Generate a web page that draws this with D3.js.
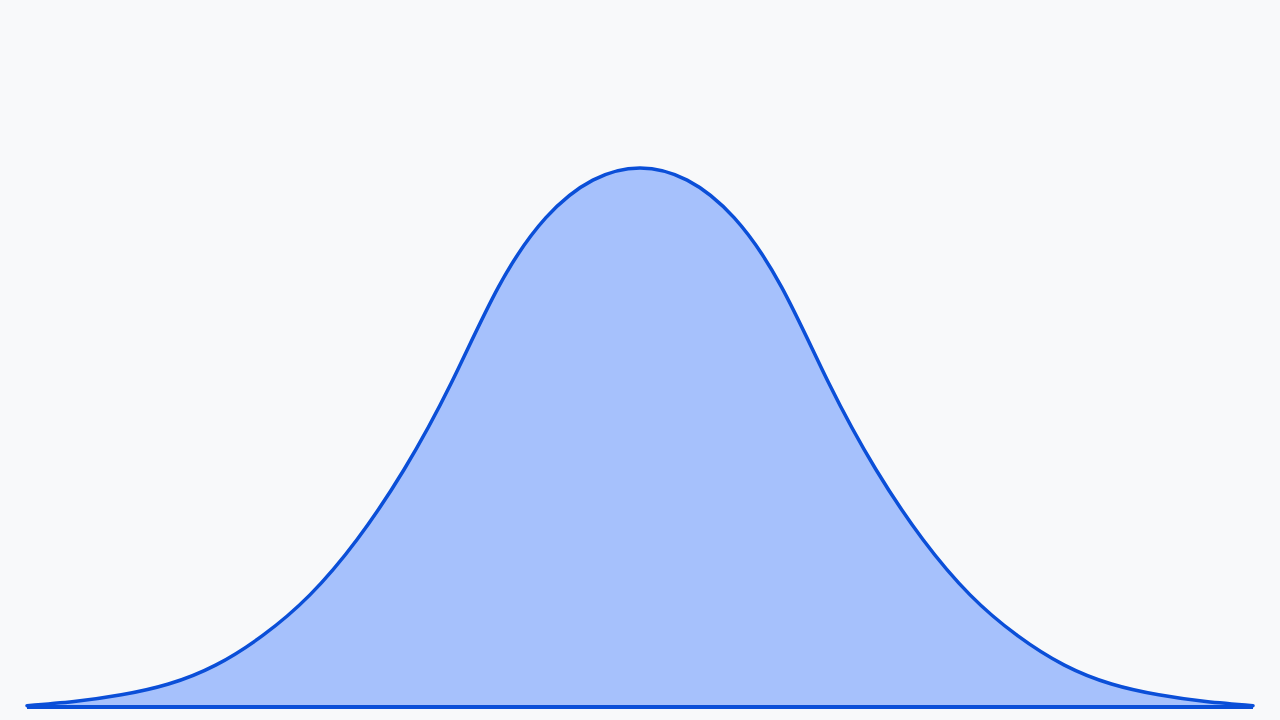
<html>
<head>
<title>Bell curve</title>
<style>
html, body {
	margin: 0;
	padding: 0;
	background: #f8f9fa;
}
svg {
	display: block;
}
</style>
<script src="https://d3js.org/d3.v7.min.js"></script>
</head>
<body>
<svg id="chart" width="1280" height="720"></svg>
<script>

// values: position in standard units, curve height
var xs = [-3.25, -3.0, -2.75, -2.5, -2.25, -2.0, -1.75, -1.5, -1.25, -1.0, -0.75, -0.5, -0.25,
	0, 0.25, 0.5, 0.75, 1.0, 1.25, 1.5, 1.75, 2.0, 2.25, 2.5, 2.75, 3.0, 3.25];
var ys = [0.001, 0.004, 0.009, 0.017, 0.031, 0.053, 0.083, 0.124, 0.176, 0.240, 0.311, 0.362, 0.390,
	0.399, 0.390, 0.362, 0.311, 0.240, 0.176, 0.124, 0.083, 0.053, 0.031, 0.017, 0.009, 0.004, 0.001];

var width = 1280, height = 720;
var baseY = 707;

var svg = d3.select('#chart');

svg.append('rect')
	.attr('width', width)
	.attr('height', height)
	.attr('fill', '#f8f9fa');

var x = d3.scaleLinear().domain([-3.25, 3.25]).range([27, 1253]);
var y = d3.scaleLinear().domain([0, 0.4]).range([baseY, baseY - 0.4 * 1351]);

var points = xs.map(function(d, i) { return [d, ys[i]]; });

var area = d3.area()
	.x(function(d) { return x(d[0]); })
	.y0(y(0))
	.y1(function(d) { return y(d[1]); })
	.curve(d3.curveNatural);

var line = d3.line()
	.x(function(d) { return x(d[0]); })
	.y(function(d) { return y(d[1]); })
	.curve(d3.curveNatural);

svg.append('path')
	.datum(points)
	.attr('d', area)
	.attr('fill', '#a6c1fc');

svg.append('path')
	.datum(points)
	.attr('d', line)
	.attr('fill', 'none')
	.attr('stroke', '#0b4fd8')
	.attr('stroke-width', 3.5)
	.attr('stroke-linecap', 'round');

// baseline
svg.append('line')
	.attr('x1', x(-3.25))
	.attr('x2', x(3.25))
	.attr('y1', y(0))
	.attr('y2', y(0))
	.attr('stroke', '#0b4fd8')
	.attr('stroke-width', 4);

</script>
</body>
</html>
